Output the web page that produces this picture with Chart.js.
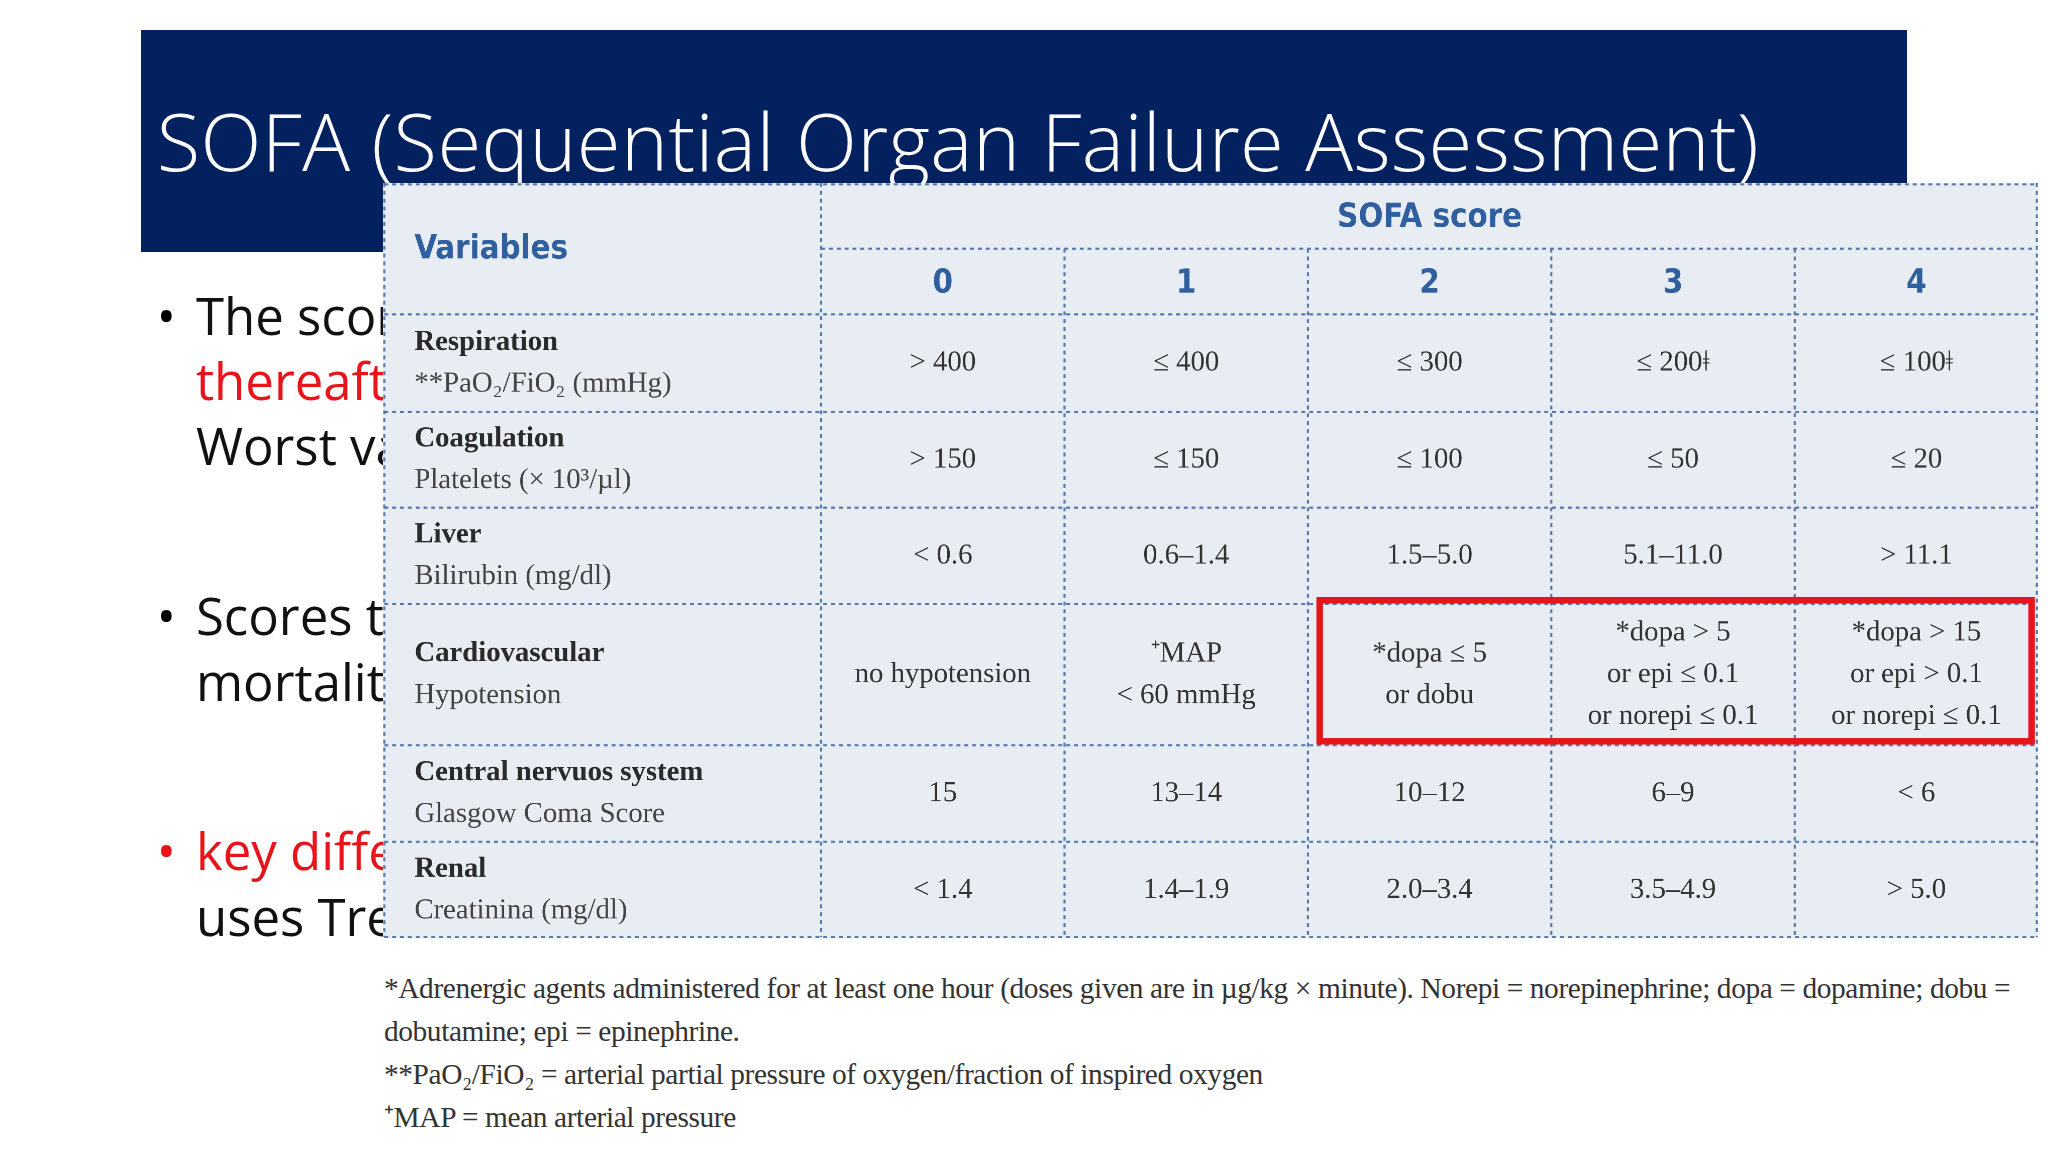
<!DOCTYPE html>
<html>
<head>
<meta charset="utf-8">
<script src="https://cdn.jsdelivr.net/npm/chart.js@4.4.0/dist/chart.umd.min.js"></script>
<style>
  html, body { margin: 0; padding: 0; background: #fff; overflow: hidden; width: 2048px; height: 1152px; }
  #slide { position: relative; width: 1568px; height: 882px; zoom: 1.30612; background: #fff; font-family: "Open Sans", sans-serif; overflow: hidden; }
  #titlebar { position: absolute; left: 108px; top: 23px; width: 1352px; height: 170px; background: #03205f; }
  #title { position: absolute; left: 120px; top: 66px; color: #fff; font-size: 61px; font-weight: 300; white-space: nowrap; letter-spacing: 0.3px; }
  .bl { position: absolute; left: 150px; font-size: 39px; color: #111; white-space: nowrap; }
  .dot { position: absolute; left: 120px; font-size: 39px; }
  .red { color: #e8141b; }
  #tablebox { position: absolute; left: 293px; top: 140px; width: 1267px; height: 735px; background: #fff; }
  #notes { position: absolute; left: 294px; top: 740px; font-family: "Liberation Serif", serif; font-size: 22.5px; color: #333; line-height: 33px; letter-spacing: -0.3px; white-space: nowrap; }
</style>
</head>
<body>
<div id="slide">
  <div id="titlebar"></div>
  <div id="title">SOFA (Sequential Organ Failure Assessment)</div>
  <div class="dot" style="top:215px">•</div>
  <div class="bl" style="top:215px">The score is calculated on admission and every 24 hours</div>
  <div class="bl red" style="top:265px">thereafter</div>
  <div class="bl" style="top:315px">Worst values</div>
  <div class="dot" style="top:445px">•</div>
  <div class="bl" style="top:445px">Scores trend</div>
  <div class="bl" style="top:495px">mortality</div>
  <div class="dot red" style="top:625px">•</div>
  <div class="bl red" style="top:625px">key difference</div>
  <div class="bl" style="top:675px">uses Trend</div>
  <div id="tablebox">
    <canvas id="sofaTable" width="1267" height="578"></canvas>
  </div>
  <div id="notes">
    *Adrenergic agents administered for at least one hour (doses given are in µg/kg × minute). Norepi = norepinephrine; dopa = dopamine; dobu =<br>
    dobutamine; epi = epinephrine.<br>
    **PaO₂/FiO₂ = arterial partial pressure of oxygen/fraction of inspired oxygen<br>
    ⁺MAP = mean arterial pressure
  </div>
</div>
<script>
// dados da tabela
const scores = ['0', '1', '2', '3', '4'];
const variables = ['Respiration', 'Coagulation', 'Liver', 'Cardiovascular', 'Central nervuos system', 'Renal'];
const measures = ['**PaO₂/FiO₂ (mmHg)', 'Platelets (× 10³/µl)', 'Bilirubin (mg/dl)', 'Hypotension', 'Glasgow Coma Score', 'Creatinina (mg/dl)'];
const respiration = ['> 400', '≤ 400', '≤ 300', '≤ 200ǂ', '≤ 100ǂ'];
const coagulation = ['> 150', '≤ 150', '≤ 100', '≤ 50', '≤ 20'];
const liver = ['< 0.6', '0.6–1.4', '1.5–5.0', '5.1–11.0', '> 11.1'];
const cardiovascular = ['no hypotension', '⁺MAP\n< 60 mmHg', '*dopa ≤ 5\nor dobu', '*dopa > 5\nor epi ≤ 0.1\nor norepi ≤ 0.1', '*dopa > 15\nor epi > 0.1\nor norepi ≤ 0.1'];
const cns = ['15', '13–14', '10–12', '6–9', '< 6'];
const renal = ['< 1.4', '1.4–1.9', '2.0–3.4', '3.5–4.9', '> 5.0'];
const scoreRows = [respiration, coagulation, liver, cardiovascular, cns, renal];

// layout: bordas das linhas (unidades do eixo y) e largura da coluna de variáveis
const rowEdges = [0, 0.68, 1.36, 2.37, 3.36, 4.36, 5.82, 6.82, 7.82];
const varColWidth = 1.8;
const highlight = { row: 3, from: 2, to: 4 };

const cellPoints = [];
scoreRows.forEach((vals, r) => vals.forEach((v, c) => {
    cellPoints.push({ x: c + 0.5, y: (rowEdges[r + 2] + rowEdges[r + 3]) / 2, text: v });
}));
const varPoints = variables.map((v, r) => ({ x: -varColWidth, y: (rowEdges[r + 2] + rowEdges[r + 3]) / 2, text: v, sub: measures[r] }));
const headPoints = scores.map((s, c) => ({ x: c + 0.5, y: (rowEdges[1] + rowEdges[2]) / 2, text: s }));

const tablePlugin = {
    id: 'tablePlugin',
    beforeDraw(chart) {
        const { ctx, scales: { x, y } } = chart;
        ctx.save();
        ctx.fillStyle = '#e8edf4';
        ctx.fillRect(x.getPixelForValue(-varColWidth), y.getPixelForValue(0), x.getPixelForValue(5) - x.getPixelForValue(-varColWidth), y.getPixelForValue(rowEdges[rowEdges.length - 1]));
        ctx.strokeStyle = '#5577aa';
        ctx.lineWidth = 1.6;
        ctx.setLineDash([3, 3]);
        const L = x.getPixelForValue(-varColWidth) + 1, R = x.getPixelForValue(5) - 1;
        rowEdges.forEach((e, i) => {
            const py = Math.min(y.getPixelForValue(e), chart.height - 1) + (i === 0 ? 1 : 0);
            ctx.beginPath();
            ctx.moveTo(i === 1 ? x.getPixelForValue(0) : L, py);
            ctx.lineTo(R, py);
            ctx.stroke();
        });
        for (let c = -1; c <= 5; c++) {
            const px = c === -1 ? L : (c === 5 ? R : x.getPixelForValue(c));
            const top = (c >= 1 && c <= 4) ? rowEdges[1] : 0;
            ctx.beginPath();
            ctx.moveTo(px, y.getPixelForValue(top));
            ctx.lineTo(px, Math.min(y.getPixelForValue(rowEdges[rowEdges.length - 1]), chart.height - 1));
            ctx.stroke();
        }
        ctx.restore();
    },
    afterDatasetsDraw(chart) {
        const { ctx, scales: { x, y } } = chart;
        ctx.save();
        ctx.textBaseline = 'middle';
        // cabeçalho
        ctx.fillStyle = '#2f5f9e';
        ctx.font = 'bold 25px "Liberation Sans Narrow", "DejaVu Sans Condensed", sans-serif';
        ctx.textAlign = 'left';
        ctx.fillText('Variables', x.getPixelForValue(-varColWidth) + 24, y.getPixelForValue(rowEdges[1]) + 1);
        ctx.textAlign = 'center';
        ctx.fillText('SOFA score', x.getPixelForValue(2.5), y.getPixelForValue(rowEdges[1] / 2) + 2);
        chart.getDatasetMeta(2).data.forEach((el, i) => ctx.fillText(headPoints[i].text, el.x, el.y + 2));
        // variáveis
        chart.getDatasetMeta(1).data.forEach((el, i) => {
            ctx.textAlign = 'left';
            ctx.fillStyle = '#2a2a2a';
            ctx.font = 'bold 22px "Liberation Serif", serif';
            ctx.fillText(varPoints[i].text, el.x + 24, el.y - 16);
            ctx.font = '22px "Liberation Serif", serif';
            ctx.fillStyle = '#444';
            ctx.fillText(varPoints[i].sub, el.x + 24, el.y + 16);
        });
        // células
        ctx.font = '22px "Liberation Serif", serif';
        ctx.fillStyle = '#333';
        ctx.textAlign = 'center';
        chart.getDatasetMeta(0).data.forEach((el, i) => {
            const lines = cellPoints[i].text.split('\n');
            lines.forEach((ln, k) => ctx.fillText(ln, el.x, el.y + (k - (lines.length - 1) / 2) * 32));
        });
        // destaque vermelho
        ctx.strokeStyle = '#e8141b';
        ctx.lineWidth = 5;
        const hx0 = x.getPixelForValue(highlight.from) + 9, hx1 = x.getPixelForValue(highlight.to + 1) - 5;
        const hy0 = y.getPixelForValue(rowEdges[highlight.row + 2]) - 3, hy1 = y.getPixelForValue(rowEdges[highlight.row + 3]) - 3;
        ctx.strokeRect(hx0, hy0, hx1 - hx0, hy1 - hy0);
        ctx.restore();
    }
};

new Chart(document.getElementById('sofaTable'), {
    type: 'scatter',
    data: {
        datasets: [
            { data: cellPoints, pointRadius: 0 },
            { data: varPoints, pointRadius: 0 },
            { data: headPoints, pointRadius: 0 }
        ]
    },
    options: {
        responsive: false,
        animation: false,
        devicePixelRatio: 2.6,
        layout: { padding: 0 },
        plugins: { legend: { display: false }, tooltip: { enabled: false } },
        scales: {
            x: { type: 'linear', min: -varColWidth, max: 5, display: false },
            y: { type: 'linear', min: 0, max: rowEdges[rowEdges.length - 1], reverse: true, display: false }
        }
    },
    plugins: [tablePlugin]
});
</script>
</body>
</html>
